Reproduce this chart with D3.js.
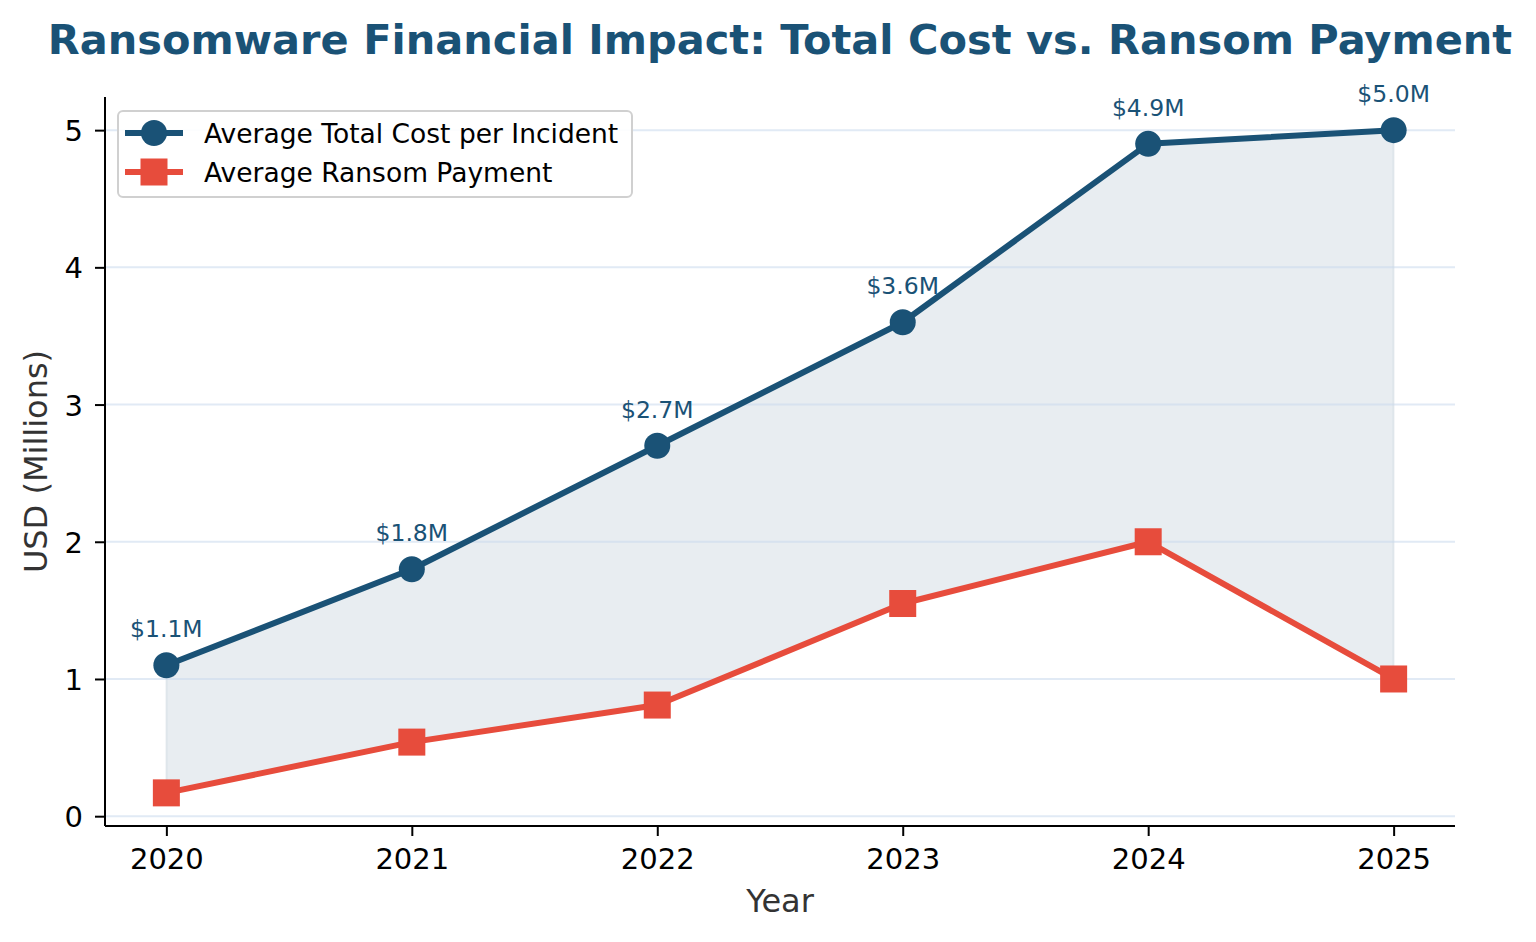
<!DOCTYPE html>
<html>
<head>
<meta charset="utf-8">
<script src="https://cdn.jsdelivr.net/npm/d3@7"></script>
<style>
  body { margin: 0; background: #fff; }
  svg { font-family: "DejaVu Sans", sans-serif; }
</style>
</head>
<body>
<div id="chart"></div>
<script>
  // Data
  const years = [2020, 2021, 2022, 2023, 2024, 2025];
  const totalCost = [1.1, 1.8, 2.7, 3.6, 4.9, 5.0];
  const ransomPayment = [0.17, 0.54, 0.81, 1.55, 2.0, 1.0];
  const yTicks = [0, 1, 2, 3, 4, 5];
  const seriesNames = ["Average Total Cost per Incident", "Average Ransom Payment"];

  const navy = "#1a5276", red = "#e74c3c";

  const W = 1536, H = 942;
  const plot = {left: 105, right: 1455, top: 97, bottom: 826};

  const svg = d3.select("#chart").append("svg")
    .attr("width", W)
    .attr("height", H);

  // matplotlib-style 5% margins
  const yMin = d3.min(ransomPayment), yMax = d3.max(totalCost);
  const yPad = (yMax - yMin) * 0.05;
  const x = d3.scaleLinear().domain([2019.75, 2025.25]).range([plot.left, plot.right]);
  const y = d3.scaleLinear().domain([yMin - yPad, yMax + yPad]).range([plot.bottom, plot.top]);

  const rows = years.map((yr, i) => ({year: yr, cost: totalCost[i], ransom: ransomPayment[i]}));

  // Fill between the two series
  const area = d3.area()
    .x(d => x(d.year))
    .y0(d => y(d.ransom))
    .y1(d => y(d.cost));
  svg.append("path")
    .datum(rows)
    .attr("d", area)
    .attr("fill", navy)
    .attr("fill-opacity", 0.1)
    .attr("stroke", navy)
    .attr("stroke-opacity", 0.08)
    .attr("stroke-width", 2);

  // Horizontal grid
  svg.append("g")
    .selectAll("line")
    .data(yTicks)
    .join("line")
    .attr("x1", plot.left).attr("x2", plot.right)
    .attr("y1", d => y(d)).attr("y2", d => y(d))
    .attr("stroke", "#c9d9ec")
    .attr("stroke-opacity", 0.55)
    .attr("stroke-width", 2);

  // Axes
  const xAxis = svg.append("g")
    .attr("transform", `translate(0,${plot.bottom})`)
    .call(d3.axisBottom(x).tickValues(years).tickFormat(d3.format("d")).tickSizeOuter(0).tickSize(10).tickPadding(12));
  const yAxis = svg.append("g")
    .attr("transform", `translate(${plot.left},0)`)
    .call(d3.axisLeft(y).tickValues(yTicks).tickFormat(d3.format("d")).tickSizeOuter(0).tickSize(10).tickPadding(12));
  [xAxis, yAxis].forEach(g => {
    g.attr("font-size", 29).attr("font-family", "DejaVu Sans");
    g.select(".domain").attr("stroke", "#000").attr("stroke-width", 2);
    g.selectAll(".tick line").attr("stroke", "#000").attr("stroke-width", 2);
    g.selectAll(".tick text").attr("fill", "#000");
  });
  yAxis.selectAll(".tick text").attr("dy", "0.36em");
  // domain path should span whole plot
  xAxis.select(".domain").attr("d", `M${plot.left},0H${plot.right}`);
  yAxis.select(".domain").attr("d", `M0,${plot.top}V${plot.bottom}`);

  // Lines
  const line = key => d3.line().x(d => x(d.year)).y(d => y(d[key]));
  svg.append("path").datum(rows).attr("d", line("cost"))
    .attr("fill", "none").attr("stroke", navy).attr("stroke-width", 6)
    .attr("stroke-linejoin", "round");
  svg.append("path").datum(rows).attr("d", line("ransom"))
    .attr("fill", "none").attr("stroke", red).attr("stroke-width", 6)
    .attr("stroke-linejoin", "round");

  // Markers
  svg.append("g").selectAll("circle").data(rows).join("circle")
    .attr("cx", d => x(d.year)).attr("cy", d => y(d.cost)).attr("r", 13)
    .attr("fill", navy);
  const sq = 27;
  svg.append("g").selectAll("rect").data(rows).join("rect")
    .attr("x", d => x(d.year) - sq / 2).attr("y", d => y(d.ransom) - sq / 2)
    .attr("width", sq).attr("height", sq)
    .attr("fill", red);

  // Value labels
  svg.append("g").selectAll("text").data(rows).join("text")
    .attr("x", d => x(d.year)).attr("y", d => y(d.cost) - 28)
    .attr("text-anchor", "middle")
    .attr("font-size", 23.5)
    .attr("fill", navy)
    .text(d => `$${d.cost.toFixed(1)}M`);

  // Axis titles
  svg.append("text")
    .attr("x", (plot.left + plot.right) / 2).attr("y", 912)
    .attr("text-anchor", "middle").attr("font-size", 32).attr("fill", "#333")
    .text("Year");
  svg.append("text")
    .attr("transform", `translate(47,${(plot.top + plot.bottom) / 2}) rotate(-90)`)
    .attr("text-anchor", "middle").attr("font-size", 32).attr("fill", "#333")
    .text("USD (Millions)");

  // Title
  svg.append("text")
    .attr("x", (plot.left + plot.right) / 2).attr("y", 54)
    .attr("text-anchor", "middle").attr("font-size", 41.5).attr("font-weight", "bold")
    .attr("fill", navy)
    .text("Ransomware Financial Impact: Total Cost vs. Ransom Payment");

  // Legend
  const lg = svg.append("g").attr("transform", "translate(118,111)");
  lg.append("rect")
    .attr("width", 514).attr("height", 86).attr("rx", 5)
    .attr("fill", "#fff").attr("fill-opacity", 0.9)
    .attr("stroke", "#d0d0d0").attr("stroke-width", 2);
  seriesNames.forEach((name, i) => {
    const cy = 22 + i * 39;
    const c = i === 0 ? navy : red;
    lg.append("line").attr("x1", 7).attr("x2", 65).attr("y1", cy).attr("y2", cy)
      .attr("stroke", c).attr("stroke-width", 6);
    if (i === 0) {
      lg.append("circle").attr("cx", 36).attr("cy", cy).attr("r", 13).attr("fill", c);
    } else {
      lg.append("rect").attr("x", 36 - sq / 2).attr("y", cy - sq / 2)
        .attr("width", sq).attr("height", sq).attr("fill", c);
    }
    lg.append("text").attr("x", 86).attr("y", cy + 9.5)
      .attr("font-size", 26.5).attr("fill", "#000").text(name);
  });
</script>
</body>
</html>
